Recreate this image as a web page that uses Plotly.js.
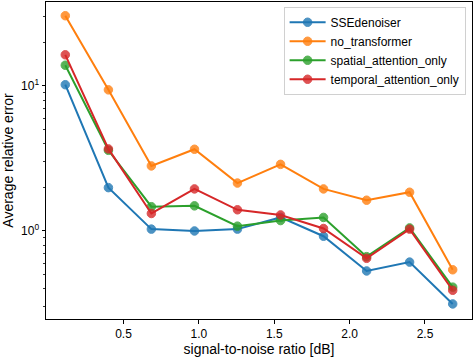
<!DOCTYPE html>
<html>
<head>
<meta charset="utf-8">
<script src="https://cdn.plot.ly/plotly-3.0.1.min.js"></script>
<style>html,body{margin:0;padding:0;background:#fff;}#chart{width:474px;height:358px;}</style>
</head>
<body>
<div id="chart"></div>
<script>
const snr = [0.114, 0.400, 0.685, 0.971, 1.256, 1.542, 1.827, 2.113, 2.398, 2.684];
const seriesNames = ["SSEdenoiser", "no_transformer", "spatial_attention_only", "temporal_attention_only"];
const sseDenoiser = [10.2, 1.99, 1.03, 1.0, 1.03, 1.24, 0.92, 0.53, 0.61, 0.314];
const noTransformer = [30.5, 9.4, 2.81, 3.66, 2.14, 2.88, 1.95, 1.63, 1.85, 0.54];
const spatialOnly = [13.9, 3.6, 1.47, 1.49, 1.08, 1.18, 1.24, 0.665, 1.05, 0.41];
const temporalOnly = [16.4, 3.68, 1.32, 1.95, 1.40, 1.29, 1.04, 0.648, 1.03, 0.39];
const colors = ["#1f77b4", "#ff7f0e", "#2ca02c", "#d62728"];
const yTickVals = [1, 10];
const yTickText = ["10<sup>0</sup>", "10<sup>1</sup>"];
const yMinorVals = [0.3, 0.4, 0.5, 0.6, 0.7, 0.8, 0.9, 2, 3, 4, 5, 6, 7, 8, 9, 20, 30];

const allY = [sseDenoiser, noTransformer, spatialOnly, temporalOnly];
const traces = allY.map((y, i) => ({
  x: snr, y: y, name: seriesNames[i], type: "scatter", mode: "lines+markers",
  line: {color: colors[i], width: 2},
  marker: {color: colors[i], size: 8.5, opacity: 0.8, line: {color: colors[i], width: 1}}
}));

const font = {family: "Liberation Sans, Arial, Helvetica, sans-serif", color: "#000"};
const layout = {
  width: 474, height: 358,
  margin: {l: 46, r: 2, t: 2, b: 39},
  paper_bgcolor: "#fff", plot_bgcolor: "#fff",
  font: Object.assign({size: 12}, font),
  showlegend: true,
  legend: {
    x: 0.985, y: 0.985, xanchor: "right", yanchor: "top",
    bgcolor: "rgba(255,255,255,0.8)", bordercolor: "#d0d0d0", borderwidth: 1,
    font: Object.assign({size: 12}, font), tracegroupgap: 0, itemwidth: 36
  },
  xaxis: {
    range: [-0.014, 2.812],
    tickvals: [0.5, 1.0, 1.5, 2.0, 2.5], ticktext: ["0.5", "1.0", "1.5", "2.0", "2.5"],
    ticks: "outside", ticklen: 3.5, tickwidth: 1, tickcolor: "#000",
    showgrid: false, zeroline: false,
    showline: true, linecolor: "#000", linewidth: 1, mirror: true,
    tickfont: Object.assign({size: 12}, font),
    title: {text: "signal-to-noise ratio [dB]", font: Object.assign({size: 14}, font), standoff: 4}
  },
  yaxis: {
    type: "log", range: [-0.607, 1.579],
    tickmode: "array", tickvals: yTickVals, ticktext: yTickText,
    ticks: "outside", ticklen: 3.5, tickwidth: 1, tickcolor: "#000",
    minor: {tickmode: "array", tickvals: yMinorVals, ticks: "outside", ticklen: 2, tickwidth: 0.8, tickcolor: "#000", showgrid: false},
    showgrid: false, zeroline: false,
    showline: true, linecolor: "#000", linewidth: 1, mirror: true,
    tickfont: Object.assign({size: 12}, font),
    title: {text: "Average relative error", font: Object.assign({size: 14}, font), standoff: 6}
  }
};
Plotly.newPlot("chart", traces, layout, {displayModeBar: false, staticPlot: true});
</script>
</body>
</html>
